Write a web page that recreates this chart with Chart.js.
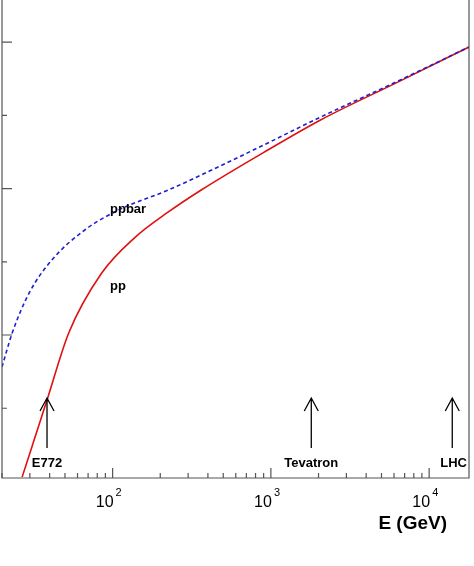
<!DOCTYPE html>
<html>
<head>
<meta charset="utf-8">
<script src="https://cdn.jsdelivr.net/npm/chart.js@4/dist/chart.umd.min.js"></script>
<style>
  html, body { margin: 0; padding: 0; background: #fff; }
  #wrap { width: 474px; height: 566px; }
</style>
</head>
<body>
<div id="wrap"><canvas id="xsec"></canvas></div>
<script>
// --- DATA ---
const ppE     = [26.8, 38.5, 52.8, 85.3, 137, 225, 363, 957, 2060, 6580, 17860];
const ppVal   = [0.03, 0.556, 1.014, 1.423, 1.662, 1.840, 1.990, 2.263, 2.468, 2.735, 2.966];
const pbarE   = [20, 23.2, 29.7, 41.3, 66.7, 109, 225, 464, 957, 2060, 6580, 17860];
const pbarVal = [0.782, 1.014, 1.287, 1.512, 1.717, 1.853, 1.990, 2.147, 2.311, 2.488, 2.741, 2.966];
const xDecades = [100, 1000, 10000];
const xDecadeExp = ['2', '3', '4'];
const yTicks = [0.5, 1, 1.5, 2, 2.5, 3];
const markers = [
  { name: 'E772', E: 38.5 },
  { name: 'Tevatron', E: 1800 },
  { name: 'LHC', E: 14000 }
];

const FONT = 'Liberation Sans, Arial, sans-serif';

// --- AXES, ARROWS AND LABELS ---
const decorations = {
  id: 'decorations',
  afterDatasetsDraw(chart) {
    const c = chart.ctx, a = chart.chartArea;
    const x = chart.scales.x, y = chart.scales.y;
    c.save();
    c.strokeStyle = '#555';
    c.lineWidth = 1.2;
    // frame: left, bottom, right
    c.beginPath();
    c.moveTo(a.left, a.top); c.lineTo(a.left, a.bottom);
    c.lineTo(a.right, a.bottom); c.lineTo(a.right, a.top);
    c.stroke();

    // x ticks (log minor + major)
    c.beginPath();
    for (let d = 10; d <= 10000; d *= 10) {
      for (let k = 1; k <= 9; k++) {
        const v = d * k;
        if (v < x.min || v > x.max) continue;
        const px = x.getPixelForValue(v);
        const len = k === 1 ? 10 : 5;
        c.moveTo(px, a.bottom); c.lineTo(px, a.bottom - len);
      }
    }
    // y ticks
    yTicks.forEach(v => {
      const py = y.getPixelForValue(v);
      const len = Number.isInteger(v) ? 10 : 5;
      c.moveTo(a.left, py); c.lineTo(a.left + len, py);
    });
    c.stroke();

    // x decade labels
    c.fillStyle = '#000';
    xDecades.forEach((v, i) => {
      const px = x.getPixelForValue(v);
      c.font = '16px ' + FONT;
      c.textAlign = 'right'; c.textBaseline = 'alphabetic';
      c.fillText('10', px + 1, 507);
      c.font = '11px ' + FONT;
      c.textAlign = 'left';
      c.fillText(xDecadeExp[i], px + 3, 496);
    });
    c.font = 'bold 19px ' + FONT;
    c.textAlign = 'right';
    c.fillText('E (GeV)', 447, 529);

    // arrows with experiment names
    c.strokeStyle = '#000';
    c.lineWidth = 1.3;
    markers.forEach(m => {
      const px = x.getPixelForValue(m.E);
      c.beginPath();
      c.moveTo(px, 448); c.lineTo(px, 398);
      c.moveTo(px - 7, 411); c.lineTo(px, 398); c.lineTo(px + 7, 411);
      c.stroke();
      c.font = 'bold 13px ' + FONT;
      c.textAlign = m.name === 'LHC' ? 'right' : 'center';
      const tx = m.name === 'LHC' ? a.right - 2 : px;
      c.fillText(m.name, tx, 467);
    });

    // curve labels
    c.font = 'bold 13px ' + FONT;
    c.textAlign = 'left';
    c.fillText('ppbar', 110, 213);
    c.fillText('pp', 110, 290);
    c.restore();
  }
};

const ctx = document.getElementById('xsec').getContext('2d');
const chart = new Chart(ctx, {
  type: 'line',
  data: {
    datasets: [
      {
        label: 'ppbar',
        data: pbarE.map((e, i) => ({ x: e, y: pbarVal[i] })),
        borderColor: '#1f1fd0',
        borderWidth: 1.6,
        borderDash: [4, 3],
        pointRadius: 0,
        cubicInterpolationMode: 'monotone',
        fill: false
      },
      {
        label: 'pp',
        data: ppE.map((e, i) => ({ x: e, y: ppVal[i] })),
        borderColor: '#e01010',
        borderWidth: 1.6,
        pointRadius: 0,
        cubicInterpolationMode: 'monotone',
        fill: false
      }
    ]
  },
  options: {
    responsive: true,
    maintainAspectRatio: false,
    animation: false,
    layout: { padding: { left: 2, right: 5, top: 0, bottom: 88 } },
    plugins: { legend: { display: false }, tooltip: { enabled: false } },
    scales: {
      x: { type: 'logarithmic', min: 20, max: 17860, display: false },
      y: { type: 'linear', min: 0.024, max: 3.287, display: false }
    }
  },
  plugins: [decorations]
});
</script>
</body>
</html>
